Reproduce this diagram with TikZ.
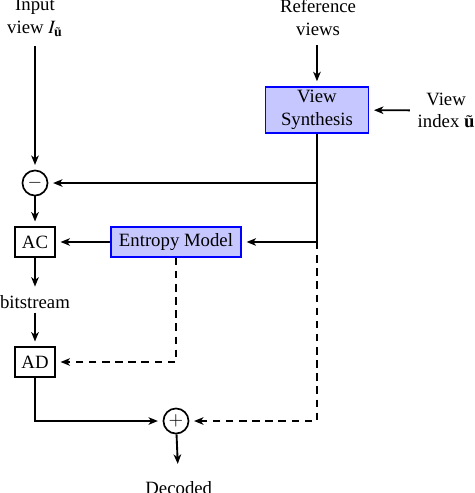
\documentclass[tikz,border=0pt]{standalone}
\usepackage{amsmath}
\usepackage{mathptmx}
\usepackage[no-math]{fontspec}
\setmainfont{Liberation Serif}
\usetikzlibrary{positioning, arrows.meta}
\tikzset{
  block/.style={rectangle, draw, line width=0.9pt, minimum width=0.75cm, minimum height=0.56cm, inner sep=2pt, align=center},
  model/.style={block, draw=blue, fill=blue!22},
  sumnode/.style={circle, draw, line width=0.9pt, minimum size=0.47cm, inner sep=0pt},
  txt/.style={align=center, inner sep=2pt},
  arrow/.style={-{Stealth[length=5pt, width=4pt, inset=1.4pt]}, line width=1pt, shorten >=2.5pt},
  dasharrow/.style={arrow, dash pattern=on 4pt off 3pt},
}

\begin{document}
\begin{tikzpicture}
  \useasboundingbox (0,0) rectangle (8.883,-9.239);

  % Nodes
  \node[txt] (input) at (0.656,-0.33) {Input\\view $I_{\tilde{\mathbf{u}}}$};
  \node[txt] (ref) at (5.96,-0.33) {Reference\\views};
  \node[model, minimum width=1.93cm, minimum height=0.84cm] (synth) at (5.94,-2.061) {View\\Synthesis};
  \node[txt] (index) at (8.36,-2.07) {View\\index $\tilde{\mathbf{u}}$};
  \node[sumnode] (minus) at (0.656,-3.43) {$-$};
  \node[block] (ac) at (0.656,-4.535) {AC};
  \node[model, minimum width=2.44cm] (entropy) at (3.298,-4.535) {Entropy Model};
  \node[txt] (bits) at (0.656,-5.66) {bitstream};
  \node[block] (ad) at (0.656,-6.784) {AD};
  \node[sumnode] (plus) at (3.298,-7.89) {$+$};
  \node[txt] (decoded) at (3.35,-9.14) {Decoded};

  % Junctions
  \coordinate (j1) at (synth.south |- minus);
  \coordinate (j2) at (synth.south |- entropy);
  \coordinate (j3) at (synth.south |- plus);
  \coordinate (d1) at (entropy.south |- ad);
  \coordinate (a1) at (ad.south |- plus);

  % Arrows
  \draw[arrow, shorten <=3pt] (input) -- (minus);
  \draw[arrow, shorten <=3pt] (ref.south -| synth.north) -- (synth);
  \draw[arrow, shorten <=2pt] (index) -- (synth);
  \draw[line width=1pt] (synth.south) -- (j2);
  \draw[arrow] (j1) -- (minus);
  \draw[arrow] (j2) -- (entropy);
  \draw[arrow] (minus) -- (ac);
  \draw[arrow] (entropy) -- (ac);
  \draw[arrow] (ac) -- (bits);
  \draw[arrow] (bits) -- (ad);
  \draw[dasharrow] (entropy.south) -- (d1) -- (ad);
  \draw[dasharrow] (j2) -- (j3) -- (plus);
  \draw[arrow] (ad) -- (a1) -- (plus);
  \draw[arrow, shorten >=7pt] (plus) -- (decoded);

\end{tikzpicture}
\end{document}
